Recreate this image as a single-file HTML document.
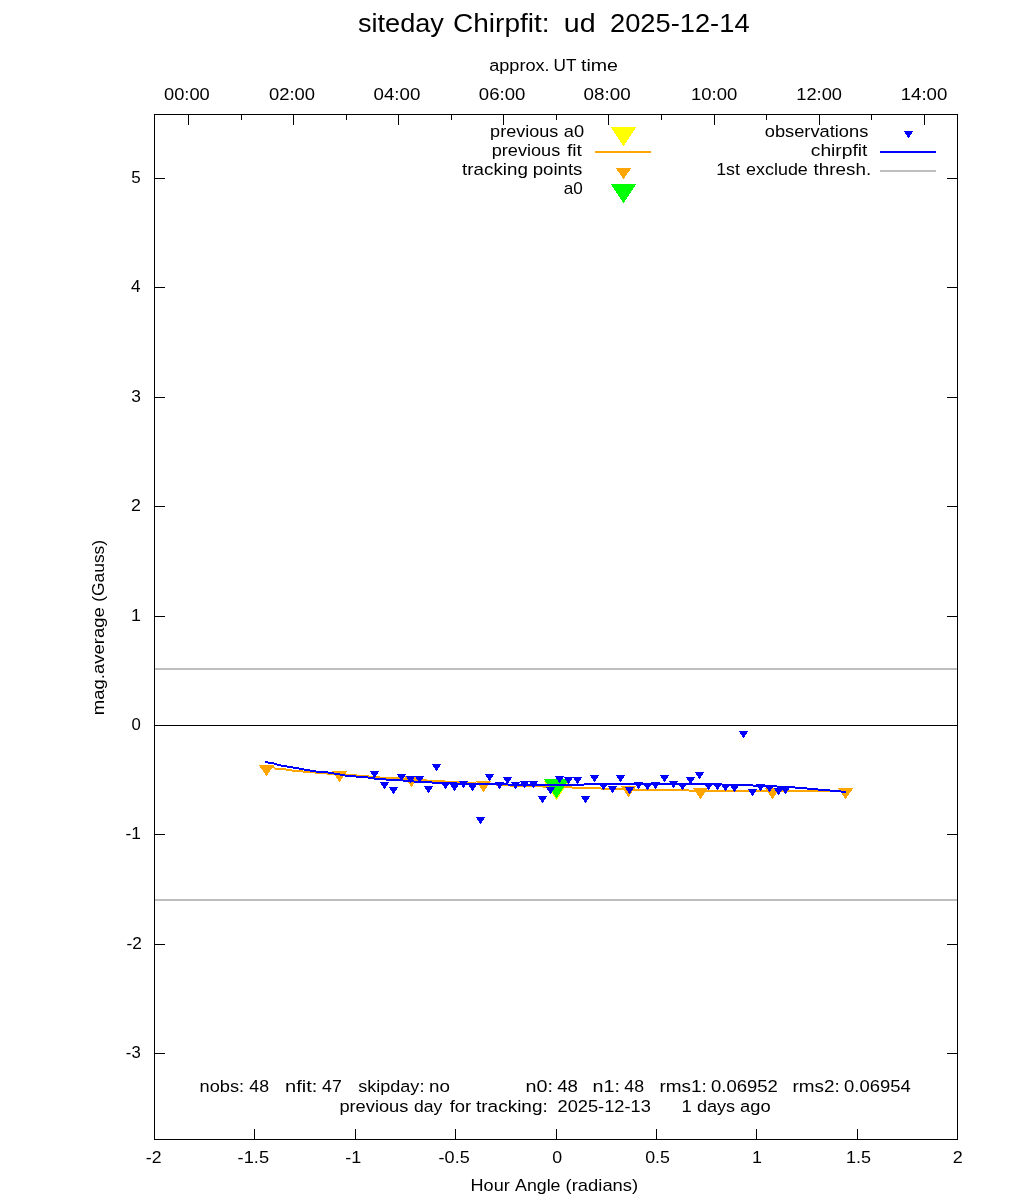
<!DOCTYPE html>
<html><head><meta charset="utf-8"><style>
html,body{margin:0;padding:0;background:#fff;}
svg{display:block;position:absolute;left:0;top:0;}
#tx{will-change:transform;}
text{font-family:"Liberation Sans",sans-serif;fill:#000;white-space:pre;}
</style></head><body>
<svg width="1024" height="1200" viewBox="0 0 1024 1200">
<rect x="0" y="0" width="1024" height="1200" fill="#fff"/>
<g shape-rendering="crispEdges">
<rect x="154" y="114" width="804" height="1" fill="#000"/>
<rect x="154" y="1139" width="804" height="1" fill="#000"/>
<rect x="154" y="114" width="1" height="1026" fill="#000"/>
<rect x="957" y="114" width="1" height="1026" fill="#000"/>
<rect x="155" y="178" width="10" height="1" fill="#000"/>
<rect x="947" y="178" width="10" height="1" fill="#000"/>
<rect x="155" y="287" width="10" height="1" fill="#000"/>
<rect x="947" y="287" width="10" height="1" fill="#000"/>
<rect x="155" y="397" width="10" height="1" fill="#000"/>
<rect x="947" y="397" width="10" height="1" fill="#000"/>
<rect x="155" y="506" width="10" height="1" fill="#000"/>
<rect x="947" y="506" width="10" height="1" fill="#000"/>
<rect x="155" y="616" width="10" height="1" fill="#000"/>
<rect x="947" y="616" width="10" height="1" fill="#000"/>
<rect x="155" y="725" width="10" height="1" fill="#000"/>
<rect x="947" y="725" width="10" height="1" fill="#000"/>
<rect x="155" y="834" width="10" height="1" fill="#000"/>
<rect x="947" y="834" width="10" height="1" fill="#000"/>
<rect x="155" y="944" width="10" height="1" fill="#000"/>
<rect x="947" y="944" width="10" height="1" fill="#000"/>
<rect x="155" y="1053" width="10" height="1" fill="#000"/>
<rect x="947" y="1053" width="10" height="1" fill="#000"/>
<rect x="154" y="1129" width="1" height="10" fill="#000"/>
<rect x="254" y="1129" width="1" height="10" fill="#000"/>
<rect x="355" y="1129" width="1" height="10" fill="#000"/>
<rect x="455" y="1129" width="1" height="10" fill="#000"/>
<rect x="556" y="1129" width="1" height="10" fill="#000"/>
<rect x="656" y="1129" width="1" height="10" fill="#000"/>
<rect x="756" y="1129" width="1" height="10" fill="#000"/>
<rect x="857" y="1129" width="1" height="10" fill="#000"/>
<rect x="957" y="1129" width="1" height="10" fill="#000"/>
<rect x="188" y="115" width="1" height="10" fill="#000"/>
<rect x="293" y="115" width="1" height="10" fill="#000"/>
<rect x="398" y="115" width="1" height="10" fill="#000"/>
<rect x="503" y="115" width="1" height="10" fill="#000"/>
<rect x="608" y="115" width="1" height="10" fill="#000"/>
<rect x="714" y="115" width="1" height="10" fill="#000"/>
<rect x="819" y="115" width="1" height="10" fill="#000"/>
<rect x="924" y="115" width="1" height="10" fill="#000"/>
<rect x="241" y="115" width="1" height="5" fill="#000"/>
<rect x="346" y="115" width="1" height="5" fill="#000"/>
<rect x="451" y="115" width="1" height="5" fill="#000"/>
<rect x="556" y="115" width="1" height="5" fill="#000"/>
<rect x="661" y="115" width="1" height="5" fill="#000"/>
<rect x="766" y="115" width="1" height="5" fill="#000"/>
<rect x="871" y="115" width="1" height="5" fill="#000"/>
<rect x="155" y="725" width="802" height="1" fill="#000"/>
<rect x="155" y="668" width="802" height="2" fill="#bebebe"/>
<rect x="155" y="899" width="802" height="2" fill="#bebebe"/>
</g>
<g shape-rendering="crispEdges">
<path d="M544 781h25v1h-25zM545 782h23v2h-23zM546 784h21v1h-21zM547 785h19v2h-19zM548 787h17v1h-17zM549 788h15v2h-15zM550 790h13v1h-13zM551 791h11v2h-11zM552 793h9v1h-9zM553 794h7v2h-7zM554 796h5v1h-5zM555 797h3v2h-3zM556 799h1v1h-1z" fill="#ffff00"/>
<path fill="#ffa500" d="M266 766h8v2h-8zM274 767h1v2h-1zM275 768h11v2h-11zM286 769h6v2h-6zM292 770h11v2h-11zM303 771h12v2h-12zM315 772h12v2h-12zM327 773h18v2h-18zM345 774h12v2h-12zM357 775h12v2h-12zM369 776h11v2h-11zM380 777h20v2h-20zM400 778h10v2h-10zM410 779h17v2h-17zM427 780h18v2h-18zM445 781h14v2h-14zM459 782h17v2h-17zM476 783h20v2h-20zM496 784h14v2h-14zM510 785h33v2h-33zM543 786h29v2h-29zM572 787h29v2h-29zM601 788h29v2h-29zM630 789h59v2h-59zM689 790h157v2h-157z"/>
<path d="M259 765h15v1h-15zM260 766h13v2h-13zM261 768h11v1h-11zM262 769h9v1h-9zM263 770h7v2h-7zM264 772h5v1h-5zM265 773h3v2h-3zM266 775h1v1h-1z" fill="#ffa500"/>
<path d="M332 771h15v1h-15zM333 772h13v2h-13zM334 774h11v1h-11zM335 775h9v1h-9zM336 776h7v2h-7zM337 778h5v1h-5zM338 779h3v2h-3zM339 781h1v1h-1z" fill="#ffa500"/>
<path d="M404 776h15v1h-15zM405 777h13v2h-13zM406 779h11v1h-11zM407 780h9v1h-9zM408 781h7v2h-7zM409 783h5v1h-5zM410 784h3v2h-3zM411 786h1v1h-1z" fill="#ffa500"/>
<path d="M476 781h15v1h-15zM477 782h13v2h-13zM478 784h11v1h-11zM479 785h9v1h-9zM480 786h7v2h-7zM481 788h5v1h-5zM482 789h3v2h-3zM483 791h1v1h-1z" fill="#ffa500"/>
<path d="M549 784h15v1h-15zM550 785h13v2h-13zM551 787h11v1h-11zM552 788h9v1h-9zM553 789h7v2h-7zM554 791h5v1h-5zM555 792h3v2h-3zM556 794h1v1h-1z" fill="#ffa500"/>
<path d="M621 786h15v1h-15zM622 787h13v2h-13zM623 789h11v1h-11zM624 790h9v1h-9zM625 791h7v2h-7zM626 793h5v1h-5zM627 794h3v2h-3zM628 796h1v1h-1z" fill="#ffa500"/>
<path d="M693 788h15v1h-15zM694 789h13v2h-13zM695 791h11v1h-11zM696 792h9v1h-9zM697 793h7v2h-7zM698 795h5v1h-5zM699 796h3v2h-3zM700 798h1v1h-1z" fill="#ffa500"/>
<path d="M765 788h15v1h-15zM766 789h13v2h-13zM767 791h11v1h-11zM768 792h9v1h-9zM769 793h7v2h-7zM770 795h5v1h-5zM771 796h3v2h-3zM772 798h1v1h-1z" fill="#ffa500"/>
<path d="M838 788h15v1h-15zM839 789h13v2h-13zM840 791h11v1h-11zM841 792h9v1h-9zM842 793h7v2h-7zM843 795h5v1h-5zM844 796h3v2h-3zM845 798h1v1h-1z" fill="#ffa500"/>
<path d="M544 779h25v1h-25zM545 780h23v2h-23zM546 782h21v1h-21zM547 783h19v2h-19zM548 785h17v1h-17zM549 786h15v2h-15zM550 788h13v1h-13zM551 789h11v2h-11zM552 791h9v1h-9zM553 792h7v2h-7zM554 794h5v1h-5zM555 795h3v2h-3zM556 797h1v1h-1z" fill="#00ff00"/>
<path d="M370 771h9v1h-9zM371 772h7v2h-7zM372 774h5v1h-5zM373 775h3v2h-3zM374 777h1v1h-1z" fill="#0000ff"/>
<path d="M380 782h9v1h-9zM381 783h7v2h-7zM382 785h5v1h-5zM383 786h3v2h-3zM384 788h1v1h-1z" fill="#0000ff"/>
<path d="M389 787h9v1h-9zM390 788h7v2h-7zM391 790h5v1h-5zM392 791h3v2h-3zM393 793h1v1h-1z" fill="#0000ff"/>
<path d="M397 774h9v1h-9zM398 775h7v2h-7zM399 777h5v1h-5zM400 778h3v2h-3zM401 780h1v1h-1z" fill="#0000ff"/>
<path d="M406 776h9v1h-9zM407 777h7v2h-7zM408 779h5v1h-5zM409 780h3v2h-3zM410 782h1v1h-1z" fill="#0000ff"/>
<path d="M415 776h9v1h-9zM416 777h7v2h-7zM417 779h5v1h-5zM418 780h3v2h-3zM419 782h1v1h-1z" fill="#0000ff"/>
<path d="M424 786h9v1h-9zM425 787h7v2h-7zM426 789h5v1h-5zM427 790h3v2h-3zM428 792h1v1h-1z" fill="#0000ff"/>
<path d="M432 764h9v1h-9zM433 765h7v2h-7zM434 767h5v1h-5zM435 768h3v2h-3zM436 770h1v1h-1z" fill="#0000ff"/>
<path d="M441 782h9v1h-9zM442 783h7v2h-7zM443 785h5v1h-5zM444 786h3v2h-3zM445 788h1v1h-1z" fill="#0000ff"/>
<path d="M450 784h9v1h-9zM451 785h7v2h-7zM452 787h5v1h-5zM453 788h3v2h-3zM454 790h1v1h-1z" fill="#0000ff"/>
<path d="M459 781h9v1h-9zM460 782h7v2h-7zM461 784h5v1h-5zM462 785h3v2h-3zM463 787h1v1h-1z" fill="#0000ff"/>
<path d="M468 784h9v1h-9zM469 785h7v2h-7zM470 787h5v1h-5zM471 788h3v2h-3zM472 790h1v1h-1z" fill="#0000ff"/>
<path d="M476 817h9v1h-9zM477 818h7v2h-7zM478 820h5v1h-5zM479 821h3v2h-3zM480 823h1v1h-1z" fill="#0000ff"/>
<path d="M485 774h9v1h-9zM486 775h7v2h-7zM487 777h5v1h-5zM488 778h3v2h-3zM489 780h1v1h-1z" fill="#0000ff"/>
<path d="M495 782h9v1h-9zM496 783h7v2h-7zM497 785h5v1h-5zM498 786h3v2h-3zM499 788h1v1h-1z" fill="#0000ff"/>
<path d="M503 777h9v1h-9zM504 778h7v2h-7zM505 780h5v1h-5zM506 781h3v2h-3zM507 783h1v1h-1z" fill="#0000ff"/>
<path d="M511 782h9v1h-9zM512 783h7v2h-7zM513 785h5v1h-5zM514 786h3v2h-3zM515 788h1v1h-1z" fill="#0000ff"/>
<path d="M520 781h9v1h-9zM521 782h7v2h-7zM522 784h5v1h-5zM523 785h3v2h-3zM524 787h1v1h-1z" fill="#0000ff"/>
<path d="M529 781h9v1h-9zM530 782h7v2h-7zM531 784h5v1h-5zM532 785h3v2h-3zM533 787h1v1h-1z" fill="#0000ff"/>
<path d="M538 796h9v1h-9zM539 797h7v2h-7zM540 799h5v1h-5zM541 800h3v2h-3zM542 802h1v1h-1z" fill="#0000ff"/>
<path d="M546 787h9v1h-9zM547 788h7v2h-7zM548 790h5v1h-5zM549 791h3v2h-3zM550 793h1v1h-1z" fill="#0000ff"/>
<path d="M555 776h9v1h-9zM556 777h7v2h-7zM557 779h5v1h-5zM558 780h3v2h-3zM559 782h1v1h-1z" fill="#0000ff"/>
<path d="M564 777h9v1h-9zM565 778h7v2h-7zM566 780h5v1h-5zM567 781h3v2h-3zM568 783h1v1h-1z" fill="#0000ff"/>
<path d="M573 777h9v1h-9zM574 778h7v2h-7zM575 780h5v1h-5zM576 781h3v2h-3zM577 783h1v1h-1z" fill="#0000ff"/>
<path d="M581 796h9v1h-9zM582 797h7v2h-7zM583 799h5v1h-5zM584 800h3v2h-3zM585 802h1v1h-1z" fill="#0000ff"/>
<path d="M590 775h9v1h-9zM591 776h7v2h-7zM592 778h5v1h-5zM593 779h3v2h-3zM594 781h1v1h-1z" fill="#0000ff"/>
<path d="M599 783h9v1h-9zM600 784h7v2h-7zM601 786h5v1h-5zM602 787h3v2h-3zM603 789h1v1h-1z" fill="#0000ff"/>
<path d="M608 786h9v1h-9zM609 787h7v2h-7zM610 789h5v1h-5zM611 790h3v2h-3zM612 792h1v1h-1z" fill="#0000ff"/>
<path d="M616 775h9v1h-9zM617 776h7v2h-7zM618 778h5v1h-5zM619 779h3v2h-3zM620 781h1v1h-1z" fill="#0000ff"/>
<path d="M625 787h9v1h-9zM626 788h7v2h-7zM627 790h5v1h-5zM628 791h3v2h-3zM629 793h1v1h-1z" fill="#0000ff"/>
<path d="M634 782h9v1h-9zM635 783h7v2h-7zM636 785h5v1h-5zM637 786h3v2h-3zM638 788h1v1h-1z" fill="#0000ff"/>
<path d="M643 783h9v1h-9zM644 784h7v2h-7zM645 786h5v1h-5zM646 787h3v2h-3zM647 789h1v1h-1z" fill="#0000ff"/>
<path d="M651 782h9v1h-9zM652 783h7v2h-7zM653 785h5v1h-5zM654 786h3v2h-3zM655 788h1v1h-1z" fill="#0000ff"/>
<path d="M660 775h9v1h-9zM661 776h7v2h-7zM662 778h5v1h-5zM663 779h3v2h-3zM664 781h1v1h-1z" fill="#0000ff"/>
<path d="M669 781h9v1h-9zM670 782h7v2h-7zM671 784h5v1h-5zM672 785h3v2h-3zM673 787h1v1h-1z" fill="#0000ff"/>
<path d="M678 783h9v1h-9zM679 784h7v2h-7zM680 786h5v1h-5zM681 787h3v2h-3zM682 789h1v1h-1z" fill="#0000ff"/>
<path d="M686 777h9v1h-9zM687 778h7v2h-7zM688 780h5v1h-5zM689 781h3v2h-3zM690 783h1v1h-1z" fill="#0000ff"/>
<path d="M695 772h9v1h-9zM696 773h7v2h-7zM697 775h5v1h-5zM698 776h3v2h-3zM699 778h1v1h-1z" fill="#0000ff"/>
<path d="M704 783h9v1h-9zM705 784h7v2h-7zM706 786h5v1h-5zM707 787h3v2h-3zM708 789h1v1h-1z" fill="#0000ff"/>
<path d="M713 783h9v1h-9zM714 784h7v2h-7zM715 786h5v1h-5zM716 787h3v2h-3zM717 789h1v1h-1z" fill="#0000ff"/>
<path d="M721 784h9v1h-9zM722 785h7v2h-7zM723 787h5v1h-5zM724 788h3v2h-3zM725 790h1v1h-1z" fill="#0000ff"/>
<path d="M730 785h9v1h-9zM731 786h7v2h-7zM732 788h5v1h-5zM733 789h3v2h-3zM734 791h1v1h-1z" fill="#0000ff"/>
<path d="M739 731h9v1h-9zM740 732h7v2h-7zM741 734h5v1h-5zM742 735h3v2h-3zM743 737h1v1h-1z" fill="#0000ff"/>
<path d="M748 789h9v1h-9zM749 790h7v2h-7zM750 792h5v1h-5zM751 793h3v2h-3zM752 795h1v1h-1z" fill="#0000ff"/>
<path d="M756 784h9v1h-9zM757 785h7v2h-7zM758 787h5v1h-5zM759 788h3v2h-3zM760 790h1v1h-1z" fill="#0000ff"/>
<path d="M765 785h9v1h-9zM766 786h7v2h-7zM767 788h5v1h-5zM768 789h3v2h-3zM769 791h1v1h-1z" fill="#0000ff"/>
<path d="M774 788h9v1h-9zM775 789h7v2h-7zM776 791h5v1h-5zM777 792h3v2h-3zM778 794h1v1h-1z" fill="#0000ff"/>
<path d="M781 787h9v1h-9zM782 788h7v2h-7zM783 790h5v1h-5zM784 791h3v2h-3zM785 793h1v1h-1z" fill="#0000ff"/>
<path fill="#0000ff" d="M265 761h3v2h-3zM268 762h6v2h-6zM274 763h3v2h-3zM277 764h4v2h-4zM281 765h6v2h-6zM287 766h6v2h-6zM293 767h6v2h-6zM299 768h5v2h-5zM304 769h6v2h-6zM310 770h6v2h-6zM316 771h12v2h-12zM328 772h6v2h-6zM334 773h6v2h-6zM340 774h5v2h-5zM345 775h11v2h-11zM356 776h12v2h-12zM368 777h6v2h-6zM374 778h12v2h-12zM386 779h17v2h-17zM403 780h11v2h-11zM414 781h18v2h-18zM432 782h25v2h-25zM457 783h51v2h-51zM508 784h76v2h-76zM584 783h138v2h-138zM722 784h31v2h-31zM753 785h24v2h-24zM777 786h18v2h-18zM795 787h12v2h-12zM807 788h11v2h-11zM818 789h12v2h-12zM830 790h11v2h-11zM841 791h5v2h-5z"/>
<path d="M611 127h25v1h-25zM612 128h23v2h-23zM613 130h21v1h-21zM614 131h19v2h-19zM615 133h17v1h-17zM616 134h15v2h-15zM617 136h13v1h-13zM618 137h11v2h-11zM619 139h9v1h-9zM620 140h7v2h-7zM621 142h5v1h-5zM622 143h3v2h-3zM623 145h1v1h-1z" fill="#ffff00"/>
<rect x="595" y="151" width="56" height="2" fill="#ffa500"/>
<path d="M616 168h15v1h-15zM617 169h13v2h-13zM618 171h11v1h-11zM619 172h9v1h-9zM620 173h7v2h-7zM621 175h5v1h-5zM622 176h3v2h-3zM623 178h1v1h-1z" fill="#ffa500"/>
<path d="M611 184h25v1h-25zM612 185h23v2h-23zM613 187h21v1h-21zM614 188h19v2h-19zM615 190h17v1h-17zM616 191h15v2h-15zM617 193h13v1h-13zM618 194h11v2h-11zM619 196h9v1h-9zM620 197h7v2h-7zM621 199h5v1h-5zM622 200h3v2h-3zM623 202h1v1h-1z" fill="#00ff00"/>
<path d="M904 131h9v1h-9zM905 132h7v2h-7zM906 134h5v1h-5zM907 135h3v2h-3zM908 137h1v1h-1z" fill="#0000ff"/>
<rect x="880" y="151" width="56" height="2" fill="#0000ff"/>
<rect x="880" y="170" width="56" height="2" fill="#bebebe"/>
</g>
</svg>
<svg id="tx" width="1024" height="1200" viewBox="0 0 1024 1200">
<text transform="translate(357.999,32) scale(1.068,1)" font-size="25.4">siteday</text>
<text transform="translate(453.021,32) scale(1.103,1)" font-size="25.4">Chirpfit:</text>
<text transform="translate(563.77,32) scale(1.126,1)" font-size="25.4">ud</text>
<text transform="translate(609.956,32) scale(1.075,1)" font-size="25.4">2025-12-14</text>
<text transform="translate(489.2,70.8) scale(1.067,1)" font-size="17">approx.</text>
<text transform="translate(553.51,70.8) scale(1.011,1)" font-size="17">UT</text>
<text transform="translate(581.012,70.8) scale(1.153,1)" font-size="17">time</text>
<text transform="translate(164.027,99.7) scale(1.076,1)" font-size="17">00:00</text>
<text transform="translate(268.923,99.7) scale(1.084,1)" font-size="17">02:00</text>
<text transform="translate(373.512,99.7) scale(1.101,1)" font-size="17">04:00</text>
<text transform="translate(478.817,99.7) scale(1.093,1)" font-size="17">06:00</text>
<text transform="translate(583.508,99.7) scale(1.108,1)" font-size="17">08:00</text>
<text transform="translate(690.937,99.7) scale(1.09,1)" font-size="17">10:00</text>
<text transform="translate(796.255,99.7) scale(1.076,1)" font-size="17">12:00</text>
<text transform="translate(900.628,99.7) scale(1.098,1)" font-size="17">14:00</text>
<text transform="translate(490.105,136.8) scale(1.062,1)" font-size="17">previous</text>
<text transform="translate(563.794,136.8) scale(1.074,1)" font-size="17">a0</text>
<text transform="translate(491.699,155.7) scale(1.067,1)" font-size="17">previous</text>
<text transform="translate(566.917,155.7) scale(1.134,1)" font-size="17">fit</text>
<text transform="translate(462.124,174.5) scale(1.105,1)" font-size="17">tracking</text>
<text transform="translate(532.665,174.5) scale(1.098,1)" font-size="17">points</text>
<text transform="translate(563.846,193.6) scale(1.006,1)" font-size="17">a0</text>
<text transform="translate(764.794,136.6) scale(1.075,1)" font-size="17">observations</text>
<text transform="translate(810.75,155.7) scale(1.133,1)" font-size="17">chirpfit</text>
<text transform="translate(716.19,174.5) scale(1.048,1)" font-size="17">1st</text>
<text transform="translate(746.11,174.5) scale(1.054,1)" font-size="17">exclude</text>
<text transform="translate(813.523,174.5) scale(1.109,1)" font-size="17">thresh.</text>
<text transform="translate(199.493,1091.7) scale(1.073,1)" font-size="17">nobs:</text>
<text transform="translate(249.309,1091.7) scale(1.042,1)" font-size="17">48</text>
<text transform="translate(285.07,1091.7) scale(1.18,1)" font-size="17">nfit:</text>
<text transform="translate(322.109,1091.7) scale(1.042,1)" font-size="17">47</text>
<text transform="translate(358.168,1091.7) scale(1.063,1)" font-size="17">skipday:</text>
<text transform="translate(428.952,1091.7) scale(1.109,1)" font-size="17">no</text>
<text transform="translate(525.49,1091.7) scale(1.164,1)" font-size="17">n0:</text>
<text transform="translate(557.188,1091.7) scale(1.099,1)" font-size="17">48</text>
<text transform="translate(592.593,1091.7) scale(1.162,1)" font-size="17">n1:</text>
<text transform="translate(624.309,1091.7) scale(1.042,1)" font-size="17">48</text>
<text transform="translate(659.445,1091.7) scale(1.116,1)" font-size="17">rms1:</text>
<text transform="translate(711.021,1091.7) scale(1.087,1)" font-size="17">0.06952</text>
<text transform="translate(792.547,1091.7) scale(1.113,1)" font-size="17">rms2:</text>
<text transform="translate(844.122,1091.7) scale(1.085,1)" font-size="17">0.06954</text>
<text transform="translate(339.392,1111.9) scale(1.074,1)" font-size="17">previous</text>
<text transform="translate(413.925,1111.9) scale(1.033,1)" font-size="17">day</text>
<text transform="translate(449.729,1111.9) scale(1.084,1)" font-size="17">for</text>
<text transform="translate(476.021,1111.9) scale(1.117,1)" font-size="17">tracking:</text>
<text transform="translate(557.562,1111.9) scale(1.072,1)" font-size="17">2025-12-13</text>
<text transform="translate(681.544,1111.9) scale(1.085,1)" font-size="17">1</text>
<text transform="translate(696.9,1111.9) scale(1.067,1)" font-size="17">days</text>
<text transform="translate(740.091,1111.9) scale(1.079,1)" font-size="17">ago</text>
<text transform="translate(470.537,1190.8) scale(1.064,1)" font-size="17">Hour</text>
<text transform="translate(515.069,1190.8) scale(1.046,1)" font-size="17">Angle</text>
<text transform="translate(565.618,1190.8) scale(1.082,1)" font-size="17">(radians)</text>
<text transform="translate(104,715.225) rotate(-90) scale(1.089,1)" font-size="17">mag.average</text>
<text transform="translate(104,601.723) rotate(-90) scale(1.023,1)" font-size="17">(Gauss)</text>
<text transform="translate(131.25,183) scale(1,1)" font-size="17">5</text>
<text transform="translate(131.122,292) scale(1.009,1)" font-size="17">4</text>
<text transform="translate(131.262,402) scale(1.022,1)" font-size="17">3</text>
<text transform="translate(130.985,511) scale(1.045,1)" font-size="17">2</text>
<text transform="translate(130.978,621) scale(1.058,1)" font-size="17">1</text>
<text transform="translate(131.385,730) scale(0.985,1)" font-size="17">0</text>
<text transform="translate(125.533,839) scale(1.022,1)" font-size="17">-1</text>
<text transform="translate(126.539,949) scale(1.015,1)" font-size="17">-2</text>
<text transform="translate(125.862,1058) scale(0.983,1)" font-size="17">-3</text>
<text transform="translate(145.822,1163) scale(1.037,1)" font-size="17">-2</text>
<text transform="translate(237.593,1163) scale(1.076,1)" font-size="17">-1.5</text>
<text transform="translate(345.206,1163) scale(1.059,1)" font-size="17">-1</text>
<text transform="translate(438.604,1163) scale(1.062,1)" font-size="17">-0.5</text>
<text transform="translate(552.246,1163) scale(1.046,1)" font-size="17">0</text>
<text transform="translate(645.146,1163) scale(1.047,1)" font-size="17">0.5</text>
<text transform="translate(751.878,1163) scale(1.058,1)" font-size="17">1</text>
<text transform="translate(845.876,1163) scale(1.059,1)" font-size="17">1.5</text>
<text transform="translate(952.874,1163) scale(1.058,1)" font-size="17">2</text>
</svg>
</body></html>
